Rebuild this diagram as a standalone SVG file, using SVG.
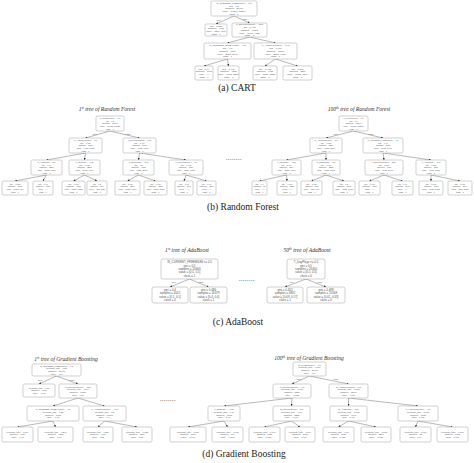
<svg xmlns="http://www.w3.org/2000/svg" width="474" height="463" viewBox="0 0 474 463">
<style>
.n{fill:#fff;stroke:#8a8a8a;stroke-width:0.4}
.t{font-family:"Liberation Sans",Arial,sans-serif;fill:#555;text-anchor:middle}
.c{font-size:2.3px}.r{font-size:2.0px}.a{font-size:2.9px}.g{font-size:2.2px}
.e{stroke:#333;stroke-width:0.35;fill:none;marker-end:url(#ah)}
.el{font-family:"Liberation Sans",Arial,sans-serif;font-size:2.2px;fill:#555;text-anchor:middle}
.cap{font-family:"Liberation Serif","Times New Roman",serif;font-size:9.5px;fill:#222;text-anchor:middle}
.ttl{font-family:"Liberation Serif","Times New Roman",serif;font-size:5.6px;font-style:italic;fill:#333;text-anchor:middle}
.dots{font-family:"Liberation Serif",serif;font-size:6px;fill:#333;letter-spacing:0.5px}
</style>
<defs>
<marker id="ah" viewBox="0 0 10 10" refX="10" refY="5" markerWidth="2" markerHeight="2" markerUnits="userSpaceOnUse" orient="auto"><path d="M0,0L10,5L0,10z" fill="#222"/></marker>
</defs>
<rect width="474" height="463" fill="#fff"/>

<!-- ===== (a) CART ===== -->
<g id="cart-edges">
<line class="e" x1="234" y1="16" x2="216" y2="24"/>
<line class="e" x1="234" y1="16" x2="249.5" y2="23"/>
<line class="e" x1="249.5" y1="37" x2="227.5" y2="43"/>
<line class="e" x1="249.5" y1="37" x2="275.5" y2="43"/>
<line class="e" x1="227.5" y1="59" x2="204" y2="66"/>
<line class="e" x1="227.5" y1="59" x2="228.5" y2="66"/>
<line class="e" x1="275.5" y1="59" x2="265" y2="66"/>
<line class="e" x1="275.5" y1="59" x2="297.5" y2="66"/>
<text class="el" x="219" y="20.5">True</text>
<text class="el" x="245" y="20">False</text>
</g>
<g id="cart-root"><rect class="n" x="211" y="1" width="46" height="15" rx="1.5"/>
<text class="t c" x="234" y="3.9"><tspan x="234">W_CURRENT_FREEMIUM &lt;= 0.5</tspan><tspan x="234" dy="2.7">gini = 0.5</tspan><tspan x="234" dy="2.7">samples = 20400</tspan><tspan x="234" dy="2.7">value = [10200, 10200]</tspan><tspan x="234" dy="2.7">class = 1</tspan></text></g>
<g id="cart-a"><rect class="n" x="205" y="24" width="22" height="12" rx="1.5"/>
<text class="t c" x="216" y="26.75"><tspan x="216">gini = 0.312</tspan><tspan x="216" dy="2.7">samples = 4021</tspan><tspan x="216" dy="2.7">value = [3244, 777]</tspan><tspan x="216" dy="2.7">class = 0</tspan></text></g>
<g id="cart-b"><rect class="n" x="232" y="23" width="35" height="14" rx="1.5"/>
<text class="t c" x="249.5" y="25.4"><tspan x="249.5">T_DayPlaysCount &lt;= 12.5</tspan><tspan x="249.5" dy="2.7">gini = 0.478</tspan><tspan x="249.5" dy="2.7">samples = 16379</tspan><tspan x="249.5" dy="2.7">value = [6956, 9423]</tspan><tspan x="249.5" dy="2.7">class = 1</tspan></text></g>
<g id="cart-c"><rect class="n" x="204" y="43" width="47" height="16" rx="1.5"/>
<text class="t c" x="227.5" y="46.4"><tspan x="227.5">W_CURRENT_STREAMING &lt;= 0.5</tspan><tspan x="227.5" dy="2.7">gini = 0.5</tspan><tspan x="227.5" dy="2.7">samples = 6012</tspan><tspan x="227.5" dy="2.7">value = [3021, 2991]</tspan><tspan x="227.5" dy="2.7">class = 0</tspan></text></g>
<g id="cart-d"><rect class="n" x="254" y="43" width="43" height="16" rx="1.5"/>
<text class="t c" x="275.5" y="46.4"><tspan x="275.5">T_AvgPlayMinutes &lt;= 41.5</tspan><tspan x="275.5" dy="2.7">gini = 0.401</tspan><tspan x="275.5" dy="2.7">samples = 10367</tspan><tspan x="275.5" dy="2.7">value = [2881, 7486]</tspan><tspan x="275.5" dy="2.7">class = 1</tspan></text></g>
<g id="cart-e"><rect class="n" x="195" y="66" width="18" height="14" rx="1.5"/>
<text class="t c" x="204" y="69.75"><tspan x="204">gini = 0.49</tspan><tspan x="204" dy="2.7">samples = 1710</tspan><tspan x="204" dy="2.7">value = [..]</tspan><tspan x="204" dy="2.7">class = 0</tspan></text></g>
<g id="cart-f"><rect class="n" x="218" y="66" width="21" height="14" rx="1.5"/>
<text class="t c" x="228.5" y="69.75"><tspan x="228.5">gini = 0.495</tspan><tspan x="228.5" dy="2.7">samples = 4302</tspan><tspan x="228.5" dy="2.7">value = [1935, 2367]</tspan><tspan x="228.5" dy="2.7">class = 1</tspan></text></g>
<g id="cart-g"><rect class="n" x="253" y="66" width="24" height="14" rx="1.5"/>
<text class="t c" x="265" y="69.75"><tspan x="265">gini = 0.468</tspan><tspan x="265" dy="2.7">samples = 4988</tspan><tspan x="265" dy="2.7">value = [1866, 3122]</tspan><tspan x="265" dy="2.7">class = 1</tspan></text></g>
<g id="cart-h"><rect class="n" x="283" y="66" width="29" height="14" rx="1.5"/>
<text class="t c" x="297.5" y="69.75"><tspan x="297.5">gini = 0.306</tspan><tspan x="297.5" dy="2.7">samples = 5379</tspan><tspan x="297.5" dy="2.7">value = [1015, 4364]</tspan><tspan x="297.5" dy="2.7">class = 1</tspan></text></g>
<text class="cap" x="237" y="91">(a) CART</text>

<!-- ===== (b) Random Forest ===== -->
<text class="ttl" x="107" y="111">1<tspan font-size="3.5" dy="-1.8">st</tspan><tspan dy="1.8"> tree of Random Forest</tspan></text>
<text class="ttl" x="359" y="111">100<tspan font-size="3.5" dy="-1.8">th</tspan><tspan dy="1.8"> tree of Random Forest</tspan></text>
<g id="rf-edges">
<line class="e" x1="110" y1="131" x2="85.5" y2="138"/>
<line class="e" x1="110" y1="131" x2="139.5" y2="138"/>
<line class="e" x1="85.5" y1="153" x2="46.5" y2="160"/>
<line class="e" x1="85.5" y1="153" x2="84.5" y2="160"/>
<line class="e" x1="139.5" y1="153" x2="138.5" y2="160"/>
<line class="e" x1="139.5" y1="153" x2="186" y2="160"/>
<line class="e" x1="46.5" y1="175" x2="15" y2="181"/>
<line class="e" x1="46.5" y1="175" x2="43" y2="181"/>
<line class="e" x1="84.5" y1="175" x2="73.5" y2="181"/>
<line class="e" x1="84.5" y1="175" x2="97" y2="181"/>
<line class="e" x1="138.5" y1="175" x2="127.5" y2="181"/>
<line class="e" x1="138.5" y1="175" x2="155.5" y2="181"/>
<line class="e" x1="186" y1="175" x2="184" y2="181"/>
<line class="e" x1="186" y1="175" x2="206.5" y2="181"/>
<text class="el" x="95" y="134.5">True</text>
<text class="el" x="128" y="134.5">False</text>
<line class="e" x1="353.5" y1="131" x2="326" y2="138"/>
<line class="e" x1="353.5" y1="131" x2="383" y2="138"/>
<line class="e" x1="326" y1="153" x2="286.5" y2="160"/>
<line class="e" x1="326" y1="153" x2="326" y2="160"/>
<line class="e" x1="383" y1="153" x2="384" y2="160"/>
<line class="e" x1="383" y1="153" x2="431" y2="160"/>
<line class="e" x1="286.5" y1="175" x2="259.5" y2="181"/>
<line class="e" x1="286.5" y1="175" x2="287" y2="181"/>
<line class="e" x1="326" y1="175" x2="311.5" y2="181"/>
<line class="e" x1="326" y1="175" x2="344" y2="181"/>
<line class="e" x1="384" y1="175" x2="369.5" y2="181"/>
<line class="e" x1="384" y1="175" x2="402.5" y2="181"/>
<line class="e" x1="431" y1="175" x2="431" y2="181"/>
<line class="e" x1="431" y1="175" x2="460" y2="181"/>
<text class="el" x="336" y="134.5">True</text>
<text class="el" x="371" y="134.5">False</text>
</g>
<g id="rf1-root"><rect class="n" x="96" y="116" width="28" height="15" rx="1.5"/>
<text class="t r" x="110" y="118.9"><tspan x="110">S_MonthlyPlays &lt;= 7.5</tspan><tspan x="110" dy="2.7">gini = 0.5</tspan><tspan x="110" dy="2.7">samples = 12901</tspan><tspan x="110" dy="2.7">value = [10178, 10222]</tspan><tspan x="110" dy="2.7">class = 1</tspan></text></g>
<g id="rf1-l1a"><rect class="n" x="69" y="138" width="33" height="15" rx="1.5"/>
<text class="t r" x="85.5" y="140.9"><tspan x="85.5">T_AvgPlayMinutes &lt;= 3.5</tspan><tspan x="85.5" dy="2.7">gini = 0.486</tspan><tspan x="85.5" dy="2.7">samples = 5083</tspan><tspan x="85.5" dy="2.7">value = [4691, 3362]</tspan><tspan x="85.5" dy="2.7">class = 0</tspan></text></g>
<g id="rf1-l1b"><rect class="n" x="123" y="138" width="33" height="15" rx="1.5"/>
<text class="t r" x="139.5" y="140.9"><tspan x="139.5">T_DayPlaysCount &lt;= 19.5</tspan><tspan x="139.5" dy="2.7">gini = 0.494</tspan><tspan x="139.5" dy="2.7">samples = 7818</tspan><tspan x="139.5" dy="2.7">value = [5487, 6860]</tspan><tspan x="139.5" dy="2.7">class = 1</tspan></text></g>
<g id="rf1-l2a"><rect class="n" x="31" y="160" width="31" height="15" rx="1.5"/>
<text class="t r" x="46.5" y="162.9"><tspan x="46.5">S_AvgSongs &lt;= 2.5</tspan><tspan x="46.5" dy="2.7">gini = 0.47</tspan><tspan x="46.5" dy="2.7">samples = 2821</tspan><tspan x="46.5" dy="2.7">value = [2783, 1688]</tspan><tspan x="46.5" dy="2.7">class = 0</tspan></text></g>
<g id="rf1-l2b"><rect class="n" x="69" y="160" width="31" height="15" rx="1.5"/>
<text class="t r" x="84.5" y="162.9"><tspan x="84.5">T_SkipRate &lt;= 0.35</tspan><tspan x="84.5" dy="2.7">gini = 0.498</tspan><tspan x="84.5" dy="2.7">samples = 2262</tspan><tspan x="84.5" dy="2.7">value = [1908, 1674]</tspan><tspan x="84.5" dy="2.7">class = 0</tspan></text></g>
<g id="rf1-l2c"><rect class="n" x="123" y="160" width="31" height="15" rx="1.5"/>
<text class="t r" x="138.5" y="162.9"><tspan x="138.5">S_Downloads &lt;= 11.5</tspan><tspan x="138.5" dy="2.7">gini = 0.5</tspan><tspan x="138.5" dy="2.7">samples = 4102</tspan><tspan x="138.5" dy="2.7">value = [3211, 3245]</tspan><tspan x="138.5" dy="2.7">class = 1</tspan></text></g>
<g id="rf1-l2d"><rect class="n" x="169" y="160" width="34" height="15" rx="1.5"/>
<text class="t r" x="186" y="162.9"><tspan x="186">T_FavoriteCount &lt;= 4.5</tspan><tspan x="186" dy="2.7">gini = 0.471</tspan><tspan x="186" dy="2.7">samples = 3716</tspan><tspan x="186" dy="2.7">value = [2276, 3615]</tspan><tspan x="186" dy="2.7">class = 1</tspan></text></g>
<g id="rf1-l3a"><rect class="n" x="2" y="181" width="26" height="14" rx="1.5"/>
<text class="t r" x="15" y="184.75"><tspan x="15">gini = 0.455</tspan><tspan x="15" dy="2.7">samples = 1632</tspan><tspan x="15" dy="2.7">value = [1682, 903]</tspan><tspan x="15" dy="2.7">class = 0</tspan></text></g>
<g id="rf1-l3b"><rect class="n" x="33" y="181" width="20" height="14" rx="1.5"/>
<text class="t r" x="43" y="184.75"><tspan x="43">gini = 0.49</tspan><tspan x="43" dy="2.7">samples = 1189</tspan><tspan x="43" dy="2.7">value = [..]</tspan><tspan x="43" dy="2.7">class = 0</tspan></text></g>
<g id="rf1-l3c"><rect class="n" x="62" y="181" width="23" height="14" rx="1.5"/>
<text class="t r" x="73.5" y="184.75"><tspan x="73.5">gini = 0.497</tspan><tspan x="73.5" dy="2.7">samples = 1412</tspan><tspan x="73.5" dy="2.7">value = [1201, 1022]</tspan><tspan x="73.5" dy="2.7">class = 0</tspan></text></g>
<g id="rf1-l3d"><rect class="n" x="87" y="181" width="20" height="14" rx="1.5"/>
<text class="t r" x="97" y="184.75"><tspan x="97">gini = 0.5</tspan><tspan x="97" dy="2.7">samples = 850</tspan><tspan x="97" dy="2.7">value = [707, 652]</tspan><tspan x="97" dy="2.7">class = 0</tspan></text></g>
<g id="rf1-l3e"><rect class="n" x="115" y="181" width="25" height="14" rx="1.5"/>
<text class="t r" x="127.5" y="184.75"><tspan x="127.5">gini = 0.499</tspan><tspan x="127.5" dy="2.7">samples = 2519</tspan><tspan x="127.5" dy="2.7">value = [2080, 1894]</tspan><tspan x="127.5" dy="2.7">class = 0</tspan></text></g>
<g id="rf1-l3f"><rect class="n" x="144" y="181" width="23" height="14" rx="1.5"/>
<text class="t r" x="155.5" y="184.75"><tspan x="155.5">gini = 0.496</tspan><tspan x="155.5" dy="2.7">samples = 1583</tspan><tspan x="155.5" dy="2.7">value = [1131, 1351]</tspan><tspan x="155.5" dy="2.7">class = 1</tspan></text></g>
<g id="rf1-l3g"><rect class="n" x="175" y="181" width="18" height="14" rx="1.5"/>
<text class="t r" x="184" y="184.75"><tspan x="184">gini = 0.43</tspan><tspan x="184" dy="2.7">samples = 1907</tspan><tspan x="184" dy="2.7">value = [..]</tspan><tspan x="184" dy="2.7">class = 1</tspan></text></g>
<g id="rf1-l3h"><rect class="n" x="197" y="181" width="19" height="14" rx="1.5"/>
<text class="t r" x="206.5" y="184.75"><tspan x="206.5">gini = 0.49</tspan><tspan x="206.5" dy="2.7">samples = 1809</tspan><tspan x="206.5" dy="2.7">value = [..]</tspan><tspan x="206.5" dy="2.7">class = 1</tspan></text></g>
<text class="dots" x="226" y="160">........</text>
<g id="rf2-root"><rect class="n" x="339" y="116" width="29" height="15" rx="1.5"/>
<text class="t r" x="353.5" y="118.9"><tspan x="353.5">T_WeeklyPlays &lt;= 6.5</tspan><tspan x="353.5" dy="2.7">gini = 0.5</tspan><tspan x="353.5" dy="2.7">samples = 12894</tspan><tspan x="353.5" dy="2.7">value = [10193, 10207]</tspan><tspan x="353.5" dy="2.7">class = 1</tspan></text></g>
<g id="rf2-l1a"><rect class="n" x="310" y="138" width="32" height="15" rx="1.5"/>
<text class="t r" x="326" y="140.9"><tspan x="326">S_AvgPlayMinutes &lt;= 8.5</tspan><tspan x="326" dy="2.7">gini = 0.488</tspan><tspan x="326" dy="2.7">samples = 5226</tspan><tspan x="326" dy="2.7">value = [4788, 3511]</tspan><tspan x="326" dy="2.7">class = 0</tspan></text></g>
<g id="rf2-l1b"><rect class="n" x="363" y="138" width="40" height="15" rx="1.5"/>
<text class="t r" x="383" y="140.9"><tspan x="383">W_CURRENT_FREEMIUM &lt;= 0.5</tspan><tspan x="383" dy="2.7">gini = 0.49</tspan><tspan x="383" dy="2.7">samples = 7668</tspan><tspan x="383" dy="2.7">value = [5405, 6696]</tspan><tspan x="383" dy="2.7">class = 1</tspan></text></g>
<g id="rf2-l2a"><rect class="n" x="272" y="160" width="29" height="15" rx="1.5"/>
<text class="t r" x="286.5" y="162.9"><tspan x="286.5">T_SkipRate &lt;= 0.55</tspan><tspan x="286.5" dy="2.7">gini = 0.474</tspan><tspan x="286.5" dy="2.7">samples = 2904</tspan><tspan x="286.5" dy="2.7">value = [2829, 1779]</tspan><tspan x="286.5" dy="2.7">class = 0</tspan></text></g>
<g id="rf2-l2b"><rect class="n" x="312" y="160" width="28" height="15" rx="1.5"/>
<text class="t r" x="326" y="162.9"><tspan x="326">S_Downloads &lt;= 5.5</tspan><tspan x="326" dy="2.7">gini = 0.497</tspan><tspan x="326" dy="2.7">samples = 2322</tspan><tspan x="326" dy="2.7">value = [1959, 1732]</tspan><tspan x="326" dy="2.7">class = 0</tspan></text></g>
<g id="rf2-l2c"><rect class="n" x="365" y="160" width="38" height="15" rx="1.5"/>
<text class="t r" x="384" y="162.9"><tspan x="384">T_DayPlaysCount &lt;= 22.5</tspan><tspan x="384" dy="2.7">gini = 0.497</tspan><tspan x="384" dy="2.7">samples = 4011</tspan><tspan x="384" dy="2.7">value = [3437, 2941]</tspan><tspan x="384" dy="2.7">class = 0</tspan></text></g>
<g id="rf2-l2d"><rect class="n" x="416" y="160" width="30" height="15" rx="1.5"/>
<text class="t r" x="431" y="162.9"><tspan x="431">T_AvgSongs &lt;= 14.5</tspan><tspan x="431" dy="2.7">gini = 0.455</tspan><tspan x="431" dy="2.7">samples = 3657</tspan><tspan x="431" dy="2.7">value = [1968, 3755]</tspan><tspan x="431" dy="2.7">class = 1</tspan></text></g>
<g id="rf2-l3a"><rect class="n" x="252" y="181" width="15" height="14" rx="1.5"/>
<text class="t r" x="259.5" y="184.75"><tspan x="259.5">gini = 0.4</tspan><tspan x="259.5" dy="2.7">samples = 16</tspan><tspan x="259.5" dy="2.7">value = [..]</tspan><tspan x="259.5" dy="2.7">class = 0</tspan></text></g>
<g id="rf2-l3b"><rect class="n" x="277" y="181" width="20" height="14" rx="1.5"/>
<text class="t r" x="287" y="184.75"><tspan x="287">gini = 0.473</tspan><tspan x="287" dy="2.7">samples = 2888</tspan><tspan x="287" dy="2.7">value = [..]</tspan><tspan x="287" dy="2.7">class = 0</tspan></text></g>
<g id="rf2-l3c"><rect class="n" x="301" y="181" width="21" height="14" rx="1.5"/>
<text class="t r" x="311.5" y="184.75"><tspan x="311.5">gini = 0.486</tspan><tspan x="311.5" dy="2.7">samples = 960</tspan><tspan x="311.5" dy="2.7">value = [891, 637]</tspan><tspan x="311.5" dy="2.7">class = 0</tspan></text></g>
<g id="rf2-l3d"><rect class="n" x="333" y="181" width="22" height="14" rx="1.5"/>
<text class="t r" x="344" y="184.75"><tspan x="344">gini = 0.5</tspan><tspan x="344" dy="2.7">samples = 1362</tspan><tspan x="344" dy="2.7">value = [1068, 1095]</tspan><tspan x="344" dy="2.7">class = 1</tspan></text></g>
<g id="rf2-l3e"><rect class="n" x="359" y="181" width="21" height="14" rx="1.5"/>
<text class="t r" x="369.5" y="184.75"><tspan x="369.5">gini = 0.499</tspan><tspan x="369.5" dy="2.7">samples = 1963</tspan><tspan x="369.5" dy="2.7">value = [..]</tspan><tspan x="369.5" dy="2.7">class = 0</tspan></text></g>
<g id="rf2-l3f"><rect class="n" x="392" y="181" width="21" height="14" rx="1.5"/>
<text class="t r" x="402.5" y="184.75"><tspan x="402.5">gini = 0.49</tspan><tspan x="402.5" dy="2.7">samples = 2048</tspan><tspan x="402.5" dy="2.7">value = [..]</tspan><tspan x="402.5" dy="2.7">class = 1</tspan></text></g>
<g id="rf2-l3g"><rect class="n" x="419" y="181" width="24" height="14" rx="1.5"/>
<text class="t r" x="431" y="184.75"><tspan x="431">gini = 0.481</tspan><tspan x="431" dy="2.7">samples = 1693</tspan><tspan x="431" dy="2.7">value = [1088, 1628]</tspan><tspan x="431" dy="2.7">class = 1</tspan></text></g>
<g id="rf2-l3h"><rect class="n" x="448" y="181" width="24" height="14" rx="1.5"/>
<text class="t r" x="460" y="184.75"><tspan x="460">gini = 0.419</tspan><tspan x="460" dy="2.7">samples = 1964</tspan><tspan x="460" dy="2.7">value = [880, 2127]</tspan><tspan x="460" dy="2.7">class = 1</tspan></text></g>
<text class="cap" x="243" y="210">(b) Random Forest</text>

<!-- ===== (c) AdaBoost ===== -->
<text class="ttl" x="187" y="252">1<tspan font-size="3.5" dy="-1.8">st</tspan><tspan dy="1.8"> tree of AdaBoost</tspan></text>
<text class="ttl" x="307" y="252">50<tspan font-size="3.5" dy="-1.8">th</tspan><tspan dy="1.8"> tree of AdaBoost</tspan></text>
<g id="ada-edges">
<line class="e" x1="189.5" y1="279" x2="170" y2="287"/>
<line class="e" x1="189.5" y1="279" x2="208.5" y2="287"/>
<line class="e" x1="306" y1="279" x2="285" y2="287"/>
<line class="e" x1="306" y1="279" x2="326" y2="287"/>
<text class="el" x="174" y="282.5">True</text>
<text class="el" x="201" y="282.5">False</text>
<text class="el" x="292" y="282.5">True</text>
<text class="el" x="320" y="282.5">False</text>
</g>
<g id="ada1-root"><rect class="n" x="161" y="259" width="57" height="20" rx="2"/>
<text class="t a" x="189.5" y="263.2"><tspan x="189.5">W_CURRENT_FREEMIUM &lt;= 0.5</tspan><tspan x="189.5" dy="3.4">gini = 0.5</tspan><tspan x="189.5" dy="3.4">samples = 20400</tspan><tspan x="189.5" dy="3.4">value = [0.5, 0.5]</tspan><tspan x="189.5" dy="3.4">class = 1</tspan></text></g>
<g id="ada1-l"><rect class="n" x="152" y="287" width="36" height="16" rx="2"/>
<text class="t a" x="170" y="290.9"><tspan x="170">gini = 0.4</tspan><tspan x="170" dy="3.4">samples = 4021</tspan><tspan x="170" dy="3.4">value = [0.1, 0.1]</tspan><tspan x="170" dy="3.4">class = 0</tspan></text></g>
<g id="ada1-r"><rect class="n" x="190" y="287" width="37" height="16" rx="2"/>
<text class="t a" x="208.5" y="290.9"><tspan x="208.5">gini = 0.486</tspan><tspan x="208.5" dy="3.4">samples = 16379</tspan><tspan x="208.5" dy="3.4">value = [0.4, 0.4]</tspan><tspan x="208.5" dy="3.4">class = 1</tspan></text></g>
<text class="dots" x="239" y="281">........</text>
<g id="ada2-root"><rect class="n" x="287" y="259" width="38" height="20" rx="2"/>
<text class="t a" x="306" y="263.2"><tspan x="306">T_DayPlays &lt;= 0.5</tspan><tspan x="306" dy="3.4">gini = 0.5</tspan><tspan x="306" dy="3.4">samples = 20400</tspan><tspan x="306" dy="3.4">value = [0.5, 0.5]</tspan><tspan x="306" dy="3.4">class = 0</tspan></text></g>
<g id="ada2-l"><rect class="n" x="267" y="287" width="36" height="16" rx="2"/>
<text class="t a" x="285" y="290.9"><tspan x="285">gini = 0.452</tspan><tspan x="285" dy="3.4">samples = 4832</tspan><tspan x="285" dy="3.4">value = [0.09, 0.17]</tspan><tspan x="285" dy="3.4">class = 1</tspan></text></g>
<g id="ada2-r"><rect class="n" x="307" y="287" width="38" height="16" rx="2"/>
<text class="t a" x="326" y="290.9"><tspan x="326">gini = 0.498</tspan><tspan x="326" dy="3.4">samples = 15568</tspan><tspan x="326" dy="3.4">value = [0.41, 0.33]</tspan><tspan x="326" dy="3.4">class = 0</tspan></text></g>
<text class="cap" x="238" y="325">(c) AdaBoost</text>

<!-- ===== (d) Gradient Boosting ===== -->
<text class="ttl" x="66" y="361">1<tspan font-size="3.5" dy="-1.8">st</tspan><tspan dy="1.8"> tree of Gradient Boosting</tspan></text>
<text class="ttl" x="309" y="360">100<tspan font-size="3.5" dy="-1.8">th</tspan><tspan dy="1.8"> tree of Gradient Boosting</tspan></text>
<g id="gb-edges">
<line class="e" x1="56.5" y1="376" x2="39" y2="384"/>
<line class="e" x1="56.5" y1="376" x2="78" y2="384"/>
<line class="e" x1="78" y1="398" x2="53" y2="406"/>
<line class="e" x1="78" y1="398" x2="104.5" y2="406"/>
<line class="e" x1="53" y1="421" x2="17.5" y2="427"/>
<line class="e" x1="53" y1="421" x2="55.5" y2="427"/>
<line class="e" x1="104.5" y1="421" x2="98" y2="427"/>
<line class="e" x1="104.5" y1="421" x2="137" y2="427"/>
<text class="el" x="40" y="380.5">True</text>
<text class="el" x="72" y="380.5">False</text>
<line class="e" x1="309.5" y1="376" x2="292" y2="384"/>
<line class="e" x1="309.5" y1="376" x2="348.5" y2="384"/>
<line class="e" x1="292" y1="398" x2="224" y2="406"/>
<line class="e" x1="292" y1="398" x2="291.5" y2="406"/>
<line class="e" x1="348.5" y1="398" x2="348.5" y2="406"/>
<line class="e" x1="348.5" y1="398" x2="418" y2="406"/>
<line class="e" x1="224" y1="421" x2="188" y2="427"/>
<line class="e" x1="224" y1="421" x2="227.5" y2="427"/>
<line class="e" x1="291.5" y1="421" x2="264.5" y2="427"/>
<line class="e" x1="291.5" y1="421" x2="300" y2="427"/>
<line class="e" x1="348.5" y1="421" x2="338.5" y2="427"/>
<line class="e" x1="348.5" y1="421" x2="376" y2="427"/>
<line class="e" x1="418" y1="421" x2="415.5" y2="427"/>
<line class="e" x1="418" y1="421" x2="452.5" y2="427"/>
<text class="el" x="299" y="379.5">True</text>
<text class="el" x="336" y="379.5">False</text>
</g>
<g id="gb1-root"><rect class="n" x="32" y="364" width="49" height="12" rx="1.5"/>
<text class="t g" x="56.5" y="366.75"><tspan x="56.5">W_CURRENT_FREEMIUM &lt;= 0.5</tspan><tspan x="56.5" dy="2.7">friedman_mse = 0.25</tspan><tspan x="56.5" dy="2.7">samples = 20400</tspan><tspan x="56.5" dy="2.7">value = -0.0</tspan></text></g>
<g id="gb1-l1a"><rect class="n" x="23" y="384" width="32" height="13" rx="1.5"/>
<text class="t g" x="39" y="388.6"><tspan x="39">friedman_mse = 0.21</tspan><tspan x="39" dy="2.7">samples = 4021</tspan><tspan x="39" dy="2.7">value = -1.18</tspan></text></g>
<g id="gb1-l1b"><rect class="n" x="59" y="384" width="38" height="14" rx="1.5"/>
<text class="t g" x="78" y="387.75"><tspan x="78">T_DayPlaysCount &lt;= 12.5</tspan><tspan x="78" dy="2.7">friedman_mse = 0.244</tspan><tspan x="78" dy="2.7">samples = 16379</tspan><tspan x="78" dy="2.7">value = 0.29</tspan></text></g>
<g id="gb1-l2a"><rect class="n" x="27" y="406" width="52" height="15" rx="1.5"/>
<text class="t g" x="53" y="410.25"><tspan x="53">W_CURRENT_STREAMING &lt;= 0.5</tspan><tspan x="53" dy="2.7">friedman_mse = 0.25</tspan><tspan x="53" dy="2.7">samples = 6012</tspan><tspan x="53" dy="2.7">value = -0.01</tspan></text></g>
<g id="gb1-l2b"><rect class="n" x="83" y="406" width="43" height="15" rx="1.5"/>
<text class="t g" x="104.5" y="410.25"><tspan x="104.5">T_AvgPlayMinutes &lt;= 41.5</tspan><tspan x="104.5" dy="2.7">friedman_mse = 0.2</tspan><tspan x="104.5" dy="2.7">samples = 10367</tspan><tspan x="104.5" dy="2.7">value = 0.44</tspan></text></g>
<g id="gb1-l3a"><rect class="n" x="2" y="427" width="31" height="15" rx="1.5"/>
<text class="t g" x="17.5" y="432.6"><tspan x="17.5">friedman_mse = 0.249</tspan><tspan x="17.5" dy="2.7">samples = 1710</tspan><tspan x="17.5" dy="2.7">value = -0.19</tspan></text></g>
<g id="gb1-l3b"><rect class="n" x="38" y="427" width="35" height="15" rx="1.5"/>
<text class="t g" x="55.5" y="432.6"><tspan x="55.5">friedman_mse = 0.248</tspan><tspan x="55.5" dy="2.7">samples = 4302</tspan><tspan x="55.5" dy="2.7">value = 0.07</tspan></text></g>
<g id="gb1-l3c"><rect class="n" x="83" y="427" width="30" height="15" rx="1.5"/>
<text class="t g" x="98" y="432.6"><tspan x="98">friedman_mse = 0.234</tspan><tspan x="98" dy="2.7">samples = 4988</tspan><tspan x="98" dy="2.7">value = 0.27</tspan></text></g>
<g id="gb1-l3d"><rect class="n" x="122" y="427" width="30" height="15" rx="1.5"/>
<text class="t g" x="137" y="432.6"><tspan x="137">friedman_mse = 0.153</tspan><tspan x="137" dy="2.7">samples = 5379</tspan><tspan x="137" dy="2.7">value = 0.63</tspan></text></g>
<text class="dots" x="160" y="401">........</text>
<g id="gb2-root"><rect class="n" x="293" y="362" width="33" height="14" rx="1.5"/>
<text class="t g" x="309.5" y="365.75"><tspan x="309.5">S_MonthlyPlays &lt;= 6.5</tspan><tspan x="309.5" dy="2.7">friedman_mse = 0.067</tspan><tspan x="309.5" dy="2.7">samples = 20400</tspan><tspan x="309.5" dy="2.7">value = -0.0</tspan></text></g>
<g id="gb2-l1a"><rect class="n" x="273" y="384" width="38" height="14" rx="1.5"/>
<text class="t g" x="292" y="387.75"><tspan x="292">T_DayPlaysCount &lt;= 9.5</tspan><tspan x="292" dy="2.7">friedman_mse = 0.078</tspan><tspan x="292" dy="2.7">samples = 5226</tspan><tspan x="292" dy="2.7">value = -0.032</tspan></text></g>
<g id="gb2-l1b"><rect class="n" x="329" y="384" width="39" height="14" rx="1.5"/>
<text class="t g" x="348.5" y="387.75"><tspan x="348.5">S_AvgPlayMinutes &lt;= 3.5</tspan><tspan x="348.5" dy="2.7">friedman_mse = 0.063</tspan><tspan x="348.5" dy="2.7">samples = 15174</tspan><tspan x="348.5" dy="2.7">value = 0.011</tspan></text></g>
<g id="gb2-l2a"><rect class="n" x="208" y="406" width="32" height="15" rx="1.5"/>
<text class="t g" x="224" y="410.25"><tspan x="224">T_SkipRate &lt;= 0.25</tspan><tspan x="224" dy="2.7">friedman_mse = 0.09</tspan><tspan x="224" dy="2.7">samples = 1873</tspan><tspan x="224" dy="2.7">value = -0.08</tspan></text></g>
<g id="gb2-l2b"><rect class="n" x="273" y="406" width="37" height="15" rx="1.5"/>
<text class="t g" x="291.5" y="410.25"><tspan x="291.5">S_FavoriteCount &lt;= 2.5</tspan><tspan x="291.5" dy="2.7">friedman_mse = 0.07</tspan><tspan x="291.5" dy="2.7">samples = 3353</tspan><tspan x="291.5" dy="2.7">value = -0.006</tspan></text></g>
<g id="gb2-l2c"><rect class="n" x="330" y="406" width="37" height="15" rx="1.5"/>
<text class="t g" x="348.5" y="410.25"><tspan x="348.5">S_AvgSongs &lt;= 11.5</tspan><tspan x="348.5" dy="2.7">friedman_mse = 0.061</tspan><tspan x="348.5" dy="2.7">samples = 7141</tspan><tspan x="348.5" dy="2.7">value = 0.004</tspan></text></g>
<g id="gb2-l2d"><rect class="n" x="398" y="406" width="40" height="15" rx="1.5"/>
<text class="t g" x="418" y="410.25"><tspan x="418">T_AvgPlayMinutes &lt;= 8.5</tspan><tspan x="418" dy="2.7">friedman_mse = 0.065</tspan><tspan x="418" dy="2.7">samples = 8033</tspan><tspan x="418" dy="2.7">value = 0.017</tspan></text></g>
<g id="gb2-l3a"><rect class="n" x="170" y="427" width="36" height="15" rx="1.5"/>
<text class="t g" x="188" y="432.6"><tspan x="188">friedman_mse = 0.087</tspan><tspan x="188" dy="2.7">samples = 1069</tspan><tspan x="188" dy="2.7">value = -0.097</tspan></text></g>
<g id="gb2-l3b"><rect class="n" x="212" y="427" width="31" height="15" rx="1.5"/>
<text class="t g" x="227.5" y="432.6"><tspan x="227.5">friedman_mse = 0.092</tspan><tspan x="227.5" dy="2.7">samples = 804</tspan><tspan x="227.5" dy="2.7">value = -0.061</tspan></text></g>
<g id="gb2-l3c"><rect class="n" x="249" y="427" width="31" height="15" rx="1.5"/>
<text class="t g" x="264.5" y="432.6"><tspan x="264.5">friedman_mse = 0.071</tspan><tspan x="264.5" dy="2.7">samples = 1538</tspan><tspan x="264.5" dy="2.7">value = -0.021</tspan></text></g>
<g id="gb2-l3d"><rect class="n" x="285" y="427" width="30" height="15" rx="1.5"/>
<text class="t g" x="300" y="432.6"><tspan x="300">friedman_mse = 0.069</tspan><tspan x="300" dy="2.7">samples = 1815</tspan><tspan x="300" dy="2.7">value = 0.006</tspan></text></g>
<g id="gb2-l3e"><rect class="n" x="323" y="427" width="31" height="15" rx="1.5"/>
<text class="t g" x="338.5" y="432.6"><tspan x="338.5">friedman_mse = 0.06</tspan><tspan x="338.5" dy="2.7">samples = 3931</tspan><tspan x="338.5" dy="2.7">value = 0.012</tspan></text></g>
<g id="gb2-l3f"><rect class="n" x="361" y="427" width="30" height="15" rx="1.5"/>
<text class="t g" x="376" y="432.6"><tspan x="376">friedman_mse = 0.062</tspan><tspan x="376" dy="2.7">samples = 3210</tspan><tspan x="376" dy="2.7">value = -0.005</tspan></text></g>
<g id="gb2-l3g"><rect class="n" x="400" y="427" width="31" height="15" rx="1.5"/>
<text class="t g" x="415.5" y="432.6"><tspan x="415.5">friedman_mse = 0.066</tspan><tspan x="415.5" dy="2.7">samples = 12</tspan><tspan x="415.5" dy="2.7">value = 0.19</tspan></text></g>
<g id="gb2-l3h"><rect class="n" x="437" y="427" width="31" height="15" rx="1.5"/>
<text class="t g" x="452.5" y="432.6"><tspan x="452.5">friedman_mse = 0.065</tspan><tspan x="452.5" dy="2.7">samples = 8021</tspan><tspan x="452.5" dy="2.7">value = 0.017</tspan></text></g>
<text class="cap" x="244" y="457">(d) Gradient Boosting</text>
</svg>
